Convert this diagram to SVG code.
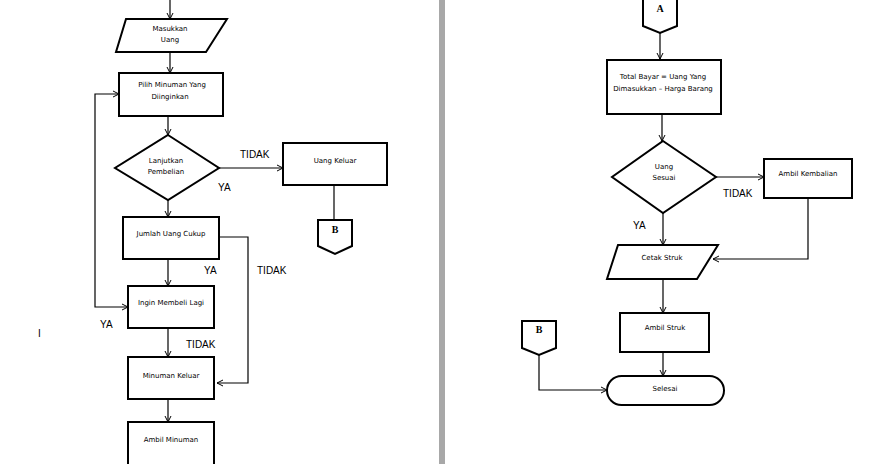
<svg xmlns="http://www.w3.org/2000/svg" width="885" height="464" viewBox="0 0 885 464">
<defs>
<marker id="ar" markerWidth="8" markerHeight="8" refX="7" refY="4" orient="auto" markerUnits="userSpaceOnUse">
<path d="M1,1 L7,4 L1,7" fill="none" stroke="#000" stroke-width="1"/>
</marker>
<style>
.s{fill:#fff;stroke:#000;stroke-width:2}
.c{fill:none;stroke:#000;stroke-width:1.2;marker-end:url(#ar)}
.p{fill:none;stroke:#000;stroke-width:1.2}
.t{font-family:"DejaVu Sans",sans-serif;font-size:7px;text-anchor:middle;fill:#000}
.l{font-family:"Liberation Sans",sans-serif;font-size:10px;fill:#000}
.b{font-family:"Liberation Serif",serif;font-size:10px;font-weight:bold;text-anchor:middle}
</style>
</defs>
<rect width="885" height="464" fill="#fff"/>
<rect x="439" y="0" width="6" height="464" fill="#a8a8a8"/>
<g id="connectors">
<path class="c" d="M170,0 V19"/>
<path class="c" d="M170,52 V73"/>
<path class="c" d="M168,116 V135"/>
<path class="c" d="M219,168 H283"/>
<path class="p" d="M334,185 V220"/>
<path class="c" d="M168,200 V217"/>
<path class="c" d="M219,237 H248 V383 H217"/>
<path class="c" d="M168,259 V286"/>
<path class="c" d="M95,200 V94 H119"/>
<path class="c" d="M95,200 V307 H128"/>
<path class="c" d="M168,328 V357"/>
<path class="c" d="M168,399 V422"/>
<path class="c" d="M660,33 V59"/>
<path class="c" d="M662,114 V141"/>
<path class="c" d="M716,177 H764"/>
<path class="c" d="M808,198 V259 H713"/>
<path class="c" d="M663,213 V245"/>
<path class="c" d="M663,279 V313"/>
<path class="c" d="M663,352 V376"/>
<path class="c" d="M539,355 V390 H607"/>
</g>
<g id="masukkan"><polygon class="s" points="126,19 227,19 206,52 116,52"/><text class="t" x="170" y="31">Masukkan</text><text class="t" x="170" y="42">Uang</text></g>
<g id="pilih"><rect class="s" x="119" y="73" width="104" height="43"/><text class="t" x="172" y="87">Pilih Minuman  Yang</text><text class="t" x="170" y="99">Diinginkan</text></g>
<g id="lanjut"><polygon class="s" points="168,135 219,168 168,200 115,168"/><text class="t" x="166" y="163">Lanjutkan</text><text class="t" x="166" y="174">Pembelian</text></g>
<g id="uangkeluar"><rect class="s" x="283" y="143" width="104" height="42"/><text class="t" x="335" y="163">Uang  Keluar</text></g>
<g id="connB1"><polygon class="s" points="318,220 352,220 352,246 335,254 318,246"/><text class="b" x="335" y="233">B</text></g>
<g id="jumlah"><rect class="s" x="123" y="217" width="96" height="42"/><text class="t" x="171" y="236">Jumlah  Uang  Cukup</text></g>
<g id="ingin"><rect class="s" x="128" y="286" width="86" height="42"/><text class="t" x="171" y="305">Ingin Membeli Lagi</text></g>
<g id="minkeluar"><rect class="s" x="128" y="357" width="86" height="42"/><text class="t" x="171" y="378">Minuman  Keluar</text></g>
<g id="ambilmin"><rect class="s" x="128" y="422" width="86" height="50"/><text class="t" x="171" y="442">Ambil Minuman</text></g>
<g id="labelsL">
<text class="l" x="240" y="158">TIDAK</text>
<text class="l" x="218" y="191">YA</text>
<text class="l" x="257" y="274">TIDAK</text>
<text class="l" x="204" y="274">YA</text>
<text class="l" x="100" y="328">YA</text>
<text class="l" x="186" y="348">TIDAK</text>
<text class="l" x="38" y="337">I</text>
</g>
<g id="connA"><polygon class="s" points="643,-2 677,-2 677,26 660,33 643,26"/><text class="b" x="660" y="12">A</text></g>
<g id="total"><rect class="s" x="607" y="60" width="114" height="54"/><text class="t" x="663" y="79">Total Bayar = Uang Yang</text><text class="t" x="663" y="91">Dimasukkan  –  Harga Barang</text></g>
<g id="sesuai"><polygon class="s" points="663,141 716,177 663,213 612,177"/><text class="t" x="664" y="169">Uang</text><text class="t" x="664" y="180">Sesuai</text></g>
<g id="kembalian"><rect class="s" x="764" y="159" width="88" height="39"/><text class="t" x="808" y="176">Ambil  Kembalian</text></g>
<g id="cetak"><polygon class="s" points="618,245 718,245 697,279 607,279"/><text class="t" x="662" y="260">Cetak  Struk</text></g>
<g id="ambilstruk"><rect class="s" x="620" y="313" width="89" height="39"/><text class="t" x="665" y="330">Ambil  Struk</text></g>
<g id="selesai"><rect class="s" x="607" y="376" width="117" height="29" rx="14.5"/><text class="t" x="665" y="391">Selesai</text></g>
<g id="connB2"><polygon class="s" points="522,321 556,321 556,348 539,355 522,348"/><text class="b" x="539" y="333">B</text></g>
<g id="labelsR">
<text class="l" x="723" y="197">TIDAK</text>
<text class="l" x="633" y="229">YA</text>
</g>
</svg>
